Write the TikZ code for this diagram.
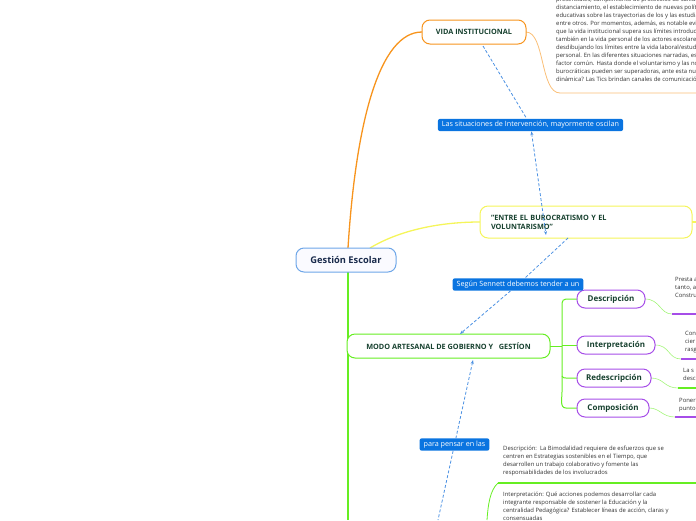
\documentclass[tikz,border=0pt]{standalone}
\usepackage{fontspec}
\setmainfont{Open Sans}
\usetikzlibrary{arrows.meta}
\definecolor{navy}{HTML}{1A2B4C}
\definecolor{dgreen}{HTML}{17412F}
\definecolor{orng}{HTML}{F7941D}
\definecolor{ylw}{HTML}{F5F55A}
\definecolor{grn}{HTML}{66EE22}
\definecolor{purp}{HTML}{A64DE8}
\definecolor{callb}{HTML}{0A74E0}
\definecolor{dash}{HTML}{4A90E2}
\definecolor{txt}{HTML}{333333}
\tikzset{
 box/.style={draw, line width=1pt, rounded corners=8pt, fill=white, inner sep=0pt, font=\fontsize{7.3}{9}\selectfont\bfseries, text=dgreen},
 call/.style={fill=callb, text=white, rounded corners=2pt, font=\fontsize{7.2}{8}\selectfont, inner xsep=4pt, inner ysep=2.5pt},
 para/.style={anchor=north west, align=left, text=txt, font=\fontsize{5.9}{8}\selectfont, inner sep=0pt},
 dsh/.style={draw=dash, densely dashed, line width=0.8pt},
}
\begin{document}
\begin{tikzpicture}[x=1pt,y=-1pt]
\useasboundingbox (0,0) rectangle (696,520);
\clip (0,0) rectangle (696,520);
% connectors
\draw[orng, line width=1.3pt] (348,248) .. controls (356,120) and (380,32) .. (422,32);
\draw[orng!60, line width=0.8pt] (526,32) .. controls (545,32) and (540,93) .. (560,93) -- (696,93);
\draw[ylw, line width=1.3pt] (370,248) .. controls (400,230) and (440,222) .. (480,222);
\draw[ylw, line width=1.3pt] (692,222) -- (700,222);
\draw[grn, line width=1.5pt] (348,272) -- (348,520);
\draw[grn, line width=1pt] (550,346) -- (562,346);
\draw[grn, line width=1pt] (577,299) -- (566,299) to[out=180,in=90] (562,303) -- (562,392) to[out=-90,in=180] (566,408) -- (577,408);
\draw[grn, line width=1pt] (562,345) -- (577,345);
\draw[grn, line width=1pt] (562,376) to[out=-90,in=180] (566,378) -- (577,378);
% sub text connectors
\draw[grn!60, line width=0.6pt] (645,299) .. controls (660,299) and (660,314) .. (672,314);
\draw[purp, line width=1.3pt] (672,314) -- (696,314);
\draw[grn!60, line width=0.6pt] (655,345) .. controls (670,345) and (668,359) .. (681,359);
\draw[purp, line width=1.3pt] (681,359) -- (696,359);
\draw[grn!60, line width=0.6pt] (651,378) .. controls (664,378) and (664,388) .. (678,388);
\draw[grn, line width=1.3pt] (678,388) -- (696,388);
\draw[grn!60, line width=0.6pt] (649,408) .. controls (660,408) and (662,417) .. (675,417);
\draw[purp, line width=1.3pt] (675,417) -- (696,417);
\draw[grn, line width=1.3pt] (498,483) -- (696,483);
\draw[grn, line width=0.8pt] (498,483) .. controls (490,490) and (488,505) .. (487,520);
% nodes
\node[box, draw=dash!80, fill=blue!2, text=navy, minimum width=100pt, minimum height=24pt, font=\fontsize{9.3}{10}\selectfont\bfseries] (ge) at (346,260) {Gestión Escolar};
\node[box, draw=orng, minimum width=104pt, minimum height=24pt] (vi) at (474,32) {VIDA INSTITUCIONAL};
\node[box, draw=ylw, minimum width=212pt, minimum height=32pt, align=left, text width=190pt] (en) at (586,222) {"ENTRE EL BUROCRATISMO Y EL\\VOLUNTARISMO"};
\node[box, draw=grn, minimum width=203pt, minimum height=24pt] (mo) at (448.5,346) {MODO ARTESANAL DE GOBIERNO Y \ \ GESTÍON};
\node[box, draw=purp, minimum width=68pt, minimum height=18pt, font=\fontsize{8}{9}\selectfont\bfseries] (d1) at (611,299) {Descripción};
\node[box, draw=purp, minimum width=78pt, minimum height=18pt, font=\fontsize{8}{9}\selectfont\bfseries] (d2) at (616,345) {Interpretación};
\node[box, draw=purp, minimum width=74pt, minimum height=18pt, font=\fontsize{8}{9}\selectfont\bfseries] (d3) at (614,378) {Redescripción};
\node[box, draw=purp, minimum width=72pt, minimum height=18pt, font=\fontsize{8}{9}\selectfont\bfseries] (d4) at (613,408) {Composición};
% dashed relations
\node[call] (c1) at (530.5,125) {Las situaciones de Intervención, mayormente oscilan};
\draw[dsh, {Stealth[length=4pt]}-{Stealth[length=4pt]}] (483,46) -- (c1) -- (546,235);
\node[call] (c2) at (518,284.5) {Según Sennett debemos tender a un};
\draw[dsh, -{Stealth[length=4pt]}] (568,238) -- (c2) -- (460,334);
\node[call] (c3) at (454.5,444.5) {para pensar en las};
\draw[dsh, {Stealth[length=4pt]}-] (473,360) -- (c3);
\draw[dsh] (c3) -- (438,520);
% paragraphs
\node[para] (p0) at (556,-3) {presenciales, cumplimiento de protocolos de sanidad y\\distanciamiento, el establecimiento de nuevas políticas\\educativas sobre las trayectorias de los y las estudiantes,\\entre otros. Por momentos, además, es notable evidenciar\\que la vida institucional supera sus límites introduciéndose\\también en la vida personal de los actores escolares,\\desdibujando los límites entre la vida laboral/estudiantil y\\personal. En las diferentes situaciones narradas, es un\\factor común. Hasta donde el voluntarismo y las normas\\burocráticas pueden ser superadoras, ante esta nueva\\dinámica? Las Tics brindan canales de comunicación};
\node[para] (p1) at (675,277) {Presta a\\tanto, a\\Constru};
\node[para] (p2) at (685,331) {Con\\cier\\rasg};
\node[para] (p3) at (683,368) {La s\\desc};
\node[para] (p4) at (679,398) {Poner\\punto};
\node[para] (p5) at (503,446) {Descripción:\ \ La Bimodalidad requiere de esfuerzos que se\\centren en Estrategias sostenibles en el Tiempo, que\\desarrollen un trabajo colaborativo y fomente las\\responsabilidades de los involucrados};
\node[para] (p6) at (503,492) {Interpretación: Qué acciones podemos desarrollar cada\\integrante responsable de sostener la Educación y la\\centralidad Pedagógica? Establecer líneas de acción, claras y\\consensuadas};
\end{tikzpicture}
\end{document}
